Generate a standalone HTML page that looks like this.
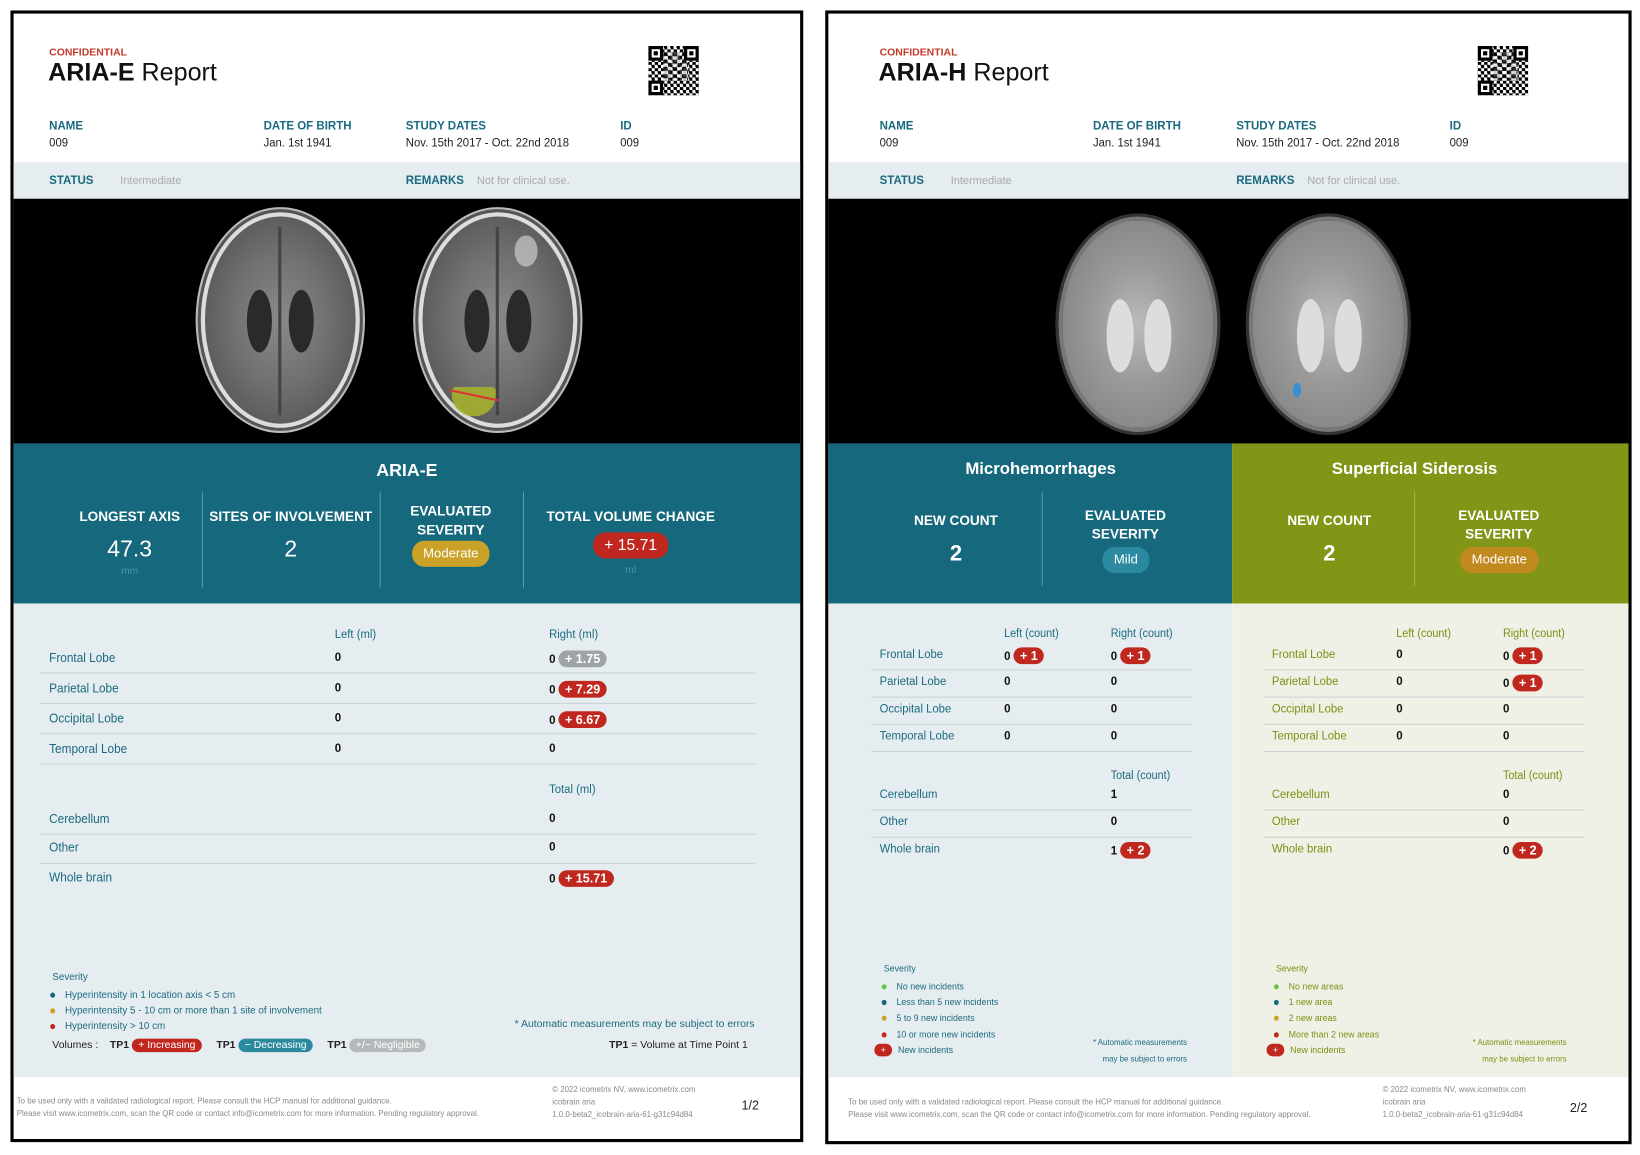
<!DOCTYPE html>
<html><head><meta charset="utf-8"><style>
*{margin:0;padding:0;box-sizing:border-box}
body{width:1640px;height:1154px;overflow:hidden;background:#fff;font-family:"Liberation Sans",Arial,sans-serif}
#w{position:absolute;left:0;top:0;width:1568px;height:1104px;transform:scale(1.0459);transform-origin:0 0}
.a{position:absolute;white-space:nowrap}
.pg{position:absolute;border:3px solid #000;background:#fff}
.lab{color:#1a6a80;font-weight:bold;font-size:11px}
.val{color:#222;font-size:11.5px}
.conf{color:#c0392b;font-weight:bold;font-size:10px}
.ttl{font-size:24px;color:#111}
.qr{position:absolute;width:48px;height:47px;background:
repeating-conic-gradient(#000 0 25%,#fff 0 50%) 0 0/6px 6px,#000}
.qr:before{content:"";position:absolute;inset:6px 10px 14px 14px;background:repeating-conic-gradient(#fff 0 25%,#000 0 50%) 0 0/9px 7px;opacity:.8}
.fd{position:absolute;width:14px;height:14px;border:3px solid #000;background:#fff;box-shadow:inset 0 0 0 2px #fff,inset 0 0 0 6px #000}
.band{position:absolute;background:#e6edf0}
.blk{position:absolute;background:#000}
.brain{position:absolute;border-radius:50%;border:4px solid #ddd;box-shadow:0 0 0 3px #555,0 0 0 5px #bbb;overflow:hidden}
.tb{color:#fff;font-weight:bold;font-size:13px;text-align:center}
.pill{display:inline-block;border-radius:12px;color:#fff;text-align:center}
.rl{color:#1a6a80;font-size:12px}
.ol{color:#7a8f12;font-size:12px}
.hd{color:#1a6a80;font-size:11.5px}
.n{font-size:11px;font-weight:bold;color:#111}
.ln{position:absolute;height:1px;background:#c9d2d6}
.sm{font-size:10px;color:#1a6a80}
.ft{font-size:8px;color:#888;line-height:12px}
.dot{display:inline-block;width:5px;height:5px;border-radius:50%;margin-right:10px;vertical-align:middle}
.rp{background:#c0281f;color:#fff;border-radius:10px;font-size:12px;padding:1px 6px;font-weight:bold}
.v{position:absolute;border-radius:50%}
.a,.ttl{transform-origin:0 0}
.rl,.ol,.hd,.sm,.val,.ft{transform:scaleX(.94)}
</style></head><body><div id="w">

<!-- LEFT PAGE -->
<div class="pg" style="left:10px;top:10px;width:758px;height:1082px"></div>
<div class="a conf" style="left:47px;top:45px">CONFIDENTIAL</div>
<div class="a ttl" style="left:46px;top:56px"><b>ARIA-E</b> Report</div>
<div class="qr" style="left:620px;top:44px"></div>
<div class="fd" style="left:620px;top:44px"></div><div class="fd" style="left:654px;top:44px"></div><div class="fd" style="left:620px;top:77px"></div>
<div class="a lab" style="left:47px;top:115px">NAME</div><div class="a val" style="left:47px;top:131px">009</div>
<div class="a lab" style="left:252px;top:115px">DATE OF BIRTH</div><div class="a val" style="left:252px;top:131px">Jan. 1st 1941</div>
<div class="a lab" style="left:388px;top:115px">STUDY DATES</div><div class="a val" style="left:388px;top:131px">Nov. 15th 2017 - Oct. 22nd 2018</div>
<div class="a lab" style="left:593px;top:115px">ID</div><div class="a val" style="left:593px;top:131px">009</div>
<div class="band" style="left:13px;top:155px;width:752px;height:35px"></div>
<div class="a lab" style="left:47px;top:167px">STATUS</div><div class="a" style="left:115px;top:167px;font-size:10.5px;color:#aaa">Intermediate</div>
<div class="a lab" style="left:388px;top:167px">REMARKS</div><div class="a" style="left:456px;top:167px;font-size:10.5px;color:#aaa">Not for clinical use.</div>
<div class="blk" style="left:13px;top:190px;width:752px;height:234px"></div>
<div class="brain" style="left:192px;top:203px;width:152px;height:206px;background:radial-gradient(ellipse at 50% 50%,#8a8a8a 0,#707070 45%,#5a5a5a 75%,#3a3a3a 92%)">
 <div class="v" style="left:40px;top:70px;width:24px;height:60px;background:#2a2a2a"></div>
 <div class="v" style="left:80px;top:70px;width:24px;height:60px;background:#2a2a2a"></div>
 <div class="v" style="left:70px;top:10px;width:3px;height:180px;background:#444;border-radius:0"></div>
</div>
<div class="brain" style="left:400px;top:203px;width:152px;height:206px;background:radial-gradient(ellipse at 50% 50%,#8a8a8a 0,#707070 45%,#5a5a5a 75%,#3a3a3a 92%)">
 <div class="v" style="left:40px;top:70px;width:24px;height:60px;background:#2a2a2a"></div>
 <div class="v" style="left:80px;top:70px;width:24px;height:60px;background:#2a2a2a"></div>
 <div class="v" style="left:70px;top:10px;width:3px;height:180px;background:#444;border-radius:0"></div>
 <div class="v" style="left:88px;top:18px;width:22px;height:30px;background:#ccc;opacity:.7"></div>
</div>
<div class="a" style="left:432px;top:370px;width:42px;height:28px;background:#a7b52a;border-radius:4px 4px 20px 20px;opacity:.85"></div>
<div class="a" style="left:430px;top:372px;width:48px;height:2px;background:#d33;transform:rotate(12deg)"></div>
<div style="position:absolute;left:13px;top:424px;width:752px;height:153px;background:#16687d"></div>
<div class="a" style="left:13px;top:440px;width:752px;text-align:center;color:#fff;font-weight:bold;font-size:17px">ARIA-E</div>
<div style="position:absolute;left:193px;top:470px;width:1px;height:92px;background:#5a9aab"></div>
<div style="position:absolute;left:363px;top:470px;width:1px;height:92px;background:#5a9aab"></div>
<div style="position:absolute;left:500px;top:470px;width:1px;height:92px;background:#5a9aab"></div>
<div class="a tb" style="left:54px;top:486px;width:140px">LONGEST AXIS</div>
<div class="a" style="left:54px;top:512px;width:140px;text-align:center;color:#fff;font-size:22px">47.3</div>
<div class="a" style="left:54px;top:541px;width:140px;text-align:center;color:#4e92a5;font-size:10px">mm</div>
<div class="a tb" style="left:198px;top:486px;width:160px">SITES OF INVOLVEMENT</div>
<div class="a" style="left:198px;top:512px;width:160px;text-align:center;color:#fff;font-size:22px">2</div>
<div class="a tb" style="left:371px;top:480px;width:120px;line-height:18px;white-space:normal">EVALUATED<br>SEVERITY</div>
<div class="a pill" style="left:394px;top:517px;width:74px;height:25px;line-height:25px;background:#c9a227;font-size:12.5px">Moderate</div>
<div class="a tb" style="left:505px;top:486px;width:196px">TOTAL VOLUME CHANGE</div>
<div class="a pill" style="left:567px;top:509px;width:72px;height:25px;line-height:25px;background:#c0281f;font-size:15px">+ 15.71</div>
<div class="a" style="left:505px;top:540px;width:196px;text-align:center;color:#4e92a5;font-size:10px">ml</div>
<div class="band" style="left:13px;top:577px;width:752px;height:453px"></div>
<div class="a hd" style="left:320px;top:601px">Left (ml)</div><div class="a hd" style="left:525px;top:601px">Right (ml)</div>
<div class="a rl" style="left:47px;top:622px">Frontal Lobe</div><div class="a n" style="left:320px;top:623px">0</div><div class="a n" style="left:525px;top:623px">0 <span class="rp" style="background:#9ea3a6">+ 1.75</span></div>
<div class="ln" style="left:38px;top:643px;width:684px"></div>
<div class="a rl" style="left:47px;top:651px">Parietal Lobe</div><div class="a n" style="left:320px;top:652px">0</div><div class="a n" style="left:525px;top:652px">0 <span class="rp">+ 7.29</span></div>
<div class="ln" style="left:38px;top:672px;width:684px"></div>
<div class="a rl" style="left:47px;top:680px">Occipital Lobe</div><div class="a n" style="left:320px;top:681px">0</div><div class="a n" style="left:525px;top:681px">0 <span class="rp">+ 6.67</span></div>
<div class="ln" style="left:38px;top:701px;width:684px"></div>
<div class="a rl" style="left:47px;top:709px">Temporal Lobe</div><div class="a n" style="left:320px;top:710px">0</div><div class="a n" style="left:525px;top:710px">0</div>
<div class="ln" style="left:38px;top:730px;width:684px"></div>
<div class="a hd" style="left:525px;top:749px">Total (ml)</div>
<div class="a rl" style="left:47px;top:776px">Cerebellum</div><div class="a n" style="left:525px;top:777px">0</div>
<div class="ln" style="left:38px;top:797px;width:684px"></div>
<div class="a rl" style="left:47px;top:803px">Other</div><div class="a n" style="left:525px;top:804px">0</div>
<div class="ln" style="left:38px;top:825px;width:684px"></div>
<div class="a rl" style="left:47px;top:832px">Whole brain</div><div class="a n" style="left:525px;top:833px">0 <span class="rp">+ 15.71</span></div>
<div class="a sm" style="left:50px;top:929px">Severity</div>
<div class="a sm" style="left:48px;top:946px"><span class="dot" style="background:#16687d"></span>Hyperintensity in 1 location axis &lt; 5 cm</div>
<div class="a sm" style="left:48px;top:961px"><span class="dot" style="background:#c9a227"></span>Hyperintensity 5 - 10 cm or more than 1 site of involvement</div>
<div class="a sm" style="left:48px;top:976px"><span class="dot" style="background:#c0281f"></span>Hyperintensity &gt; 10 cm</div>
<div class="a" style="left:50px;top:993px;font-size:10px;color:#222">Volumes : &nbsp;&nbsp; <b>TP1</b> <span class="pill" style="background:#c0281f;padding:1px 6px;font-size:10px">+ Increasing</span> &nbsp;&nbsp;&nbsp; <b>TP1</b> <span class="pill" style="background:#2c8aa0;padding:1px 6px;font-size:10px">− Decreasing</span> &nbsp;&nbsp;&nbsp; <b>TP1</b> <span class="pill" style="background:#b5b8ba;padding:1px 6px;font-size:10px">+/− Negligible</span></div>
<div class="a" style="left:492px;top:974px;font-size:10px;color:#1a6a80">* Automatic measurements may be subject to errors</div>
<div class="a" style="right:853px;top:994px;font-size:10px;color:#222"><b>TP1</b> = Volume at Time Point 1</div>
<div class="a ft" style="left:16px;top:1047px">To be used only with a validated radiological report. Please consult the HCP manual for additional guidance.<br>Please visit www.icometrix.com, scan the QR code or contact info@icometrix.com for more information. Pending regulatory approval.</div>
<div class="a ft" style="left:528px;top:1036px">© 2022 icometrix NV, www.icometrix.com<br>icobrain aria<br>1.0.0-beta2_icobrain-aria-61-g31c94d84</div>
<div class="a" style="left:709px;top:1050px;font-size:12px;color:#222">1/2</div>

<!-- RIGHT PAGE -->
<div class="pg" style="left:789px;top:10px;width:771px;height:1084px"></div>
<div class="a conf" style="left:841px;top:45px">CONFIDENTIAL</div>
<div class="a ttl" style="left:840px;top:56px"><b>ARIA-H</b> Report</div>
<div class="qr" style="left:1413px;top:44px"></div>
<div class="fd" style="left:1413px;top:44px"></div><div class="fd" style="left:1447px;top:44px"></div><div class="fd" style="left:1413px;top:77px"></div>
<div class="a lab" style="left:841px;top:115px">NAME</div><div class="a val" style="left:841px;top:131px">009</div>
<div class="a lab" style="left:1045px;top:115px">DATE OF BIRTH</div><div class="a val" style="left:1045px;top:131px">Jan. 1st 1941</div>
<div class="a lab" style="left:1182px;top:115px">STUDY DATES</div><div class="a val" style="left:1182px;top:131px">Nov. 15th 2017 - Oct. 22nd 2018</div>
<div class="a lab" style="left:1386px;top:115px">ID</div><div class="a val" style="left:1386px;top:131px">009</div>
<div class="band" style="left:792px;top:155px;width:765px;height:35px"></div>
<div class="a lab" style="left:841px;top:167px">STATUS</div><div class="a" style="left:909px;top:167px;font-size:10.5px;color:#aaa">Intermediate</div>
<div class="a lab" style="left:1182px;top:167px">REMARKS</div><div class="a" style="left:1250px;top:167px;font-size:10.5px;color:#aaa">Not for clinical use.</div>
<div class="blk" style="left:792px;top:190px;width:765px;height:234px"></div>
<div class="brain" style="left:1012px;top:207px;width:152px;height:206px;border-color:#777;box-shadow:0 0 0 3px #333;background:radial-gradient(ellipse at 50% 50%,#bbb 0,#9a9a9a 40%,#8a8a8a 70%,#666 92%)">
 <div class="v" style="left:42px;top:75px;width:26px;height:70px;background:#ddd"></div>
 <div class="v" style="left:78px;top:75px;width:26px;height:70px;background:#ddd"></div>
</div>
<div class="brain" style="left:1194px;top:207px;width:152px;height:206px;border-color:#777;box-shadow:0 0 0 3px #333;background:radial-gradient(ellipse at 50% 50%,#bbb 0,#9a9a9a 40%,#8a8a8a 70%,#666 92%)">
 <div class="v" style="left:42px;top:75px;width:26px;height:70px;background:#ddd"></div>
 <div class="v" style="left:78px;top:75px;width:26px;height:70px;background:#ddd"></div>
 <div class="v" style="left:38px;top:155px;width:8px;height:14px;background:#3a8fd0"></div>
</div>
<div style="position:absolute;left:792px;top:424px;width:386px;height:153px;background:#16687d"></div>
<div style="position:absolute;left:1178px;top:424px;width:379px;height:153px;background:#819617"></div>
<div class="a" style="left:792px;top:440px;width:406px;text-align:center;color:#fff;font-weight:bold;font-size:16px">Microhemorrhages</div>
<div class="a" style="left:1178px;top:440px;width:349px;text-align:center;color:#fff;font-weight:bold;font-size:16px">Superficial Siderosis</div>
<div style="position:absolute;left:996px;top:470px;width:1px;height:90px;background:#5a9aab"></div>
<div style="position:absolute;left:1352px;top:470px;width:1px;height:90px;background:#a5b550"></div>
<div class="a tb" style="left:844px;top:490px;width:140px">NEW COUNT</div>
<div class="a" style="left:844px;top:518px;width:140px;text-align:center;color:#fff;font-size:21px;font-weight:bold">2</div>
<div class="a tb" style="left:1016px;top:484px;width:120px;line-height:18px">EVALUATED<br>SEVERITY</div>
<div class="a pill" style="left:1054px;top:523px;width:45px;height:25px;line-height:25px;background:#2c8aa0;font-size:12.5px">Mild</div>
<div class="a tb" style="left:1201px;top:490px;width:140px">NEW COUNT</div>
<div class="a" style="left:1201px;top:518px;width:140px;text-align:center;color:#fff;font-size:21px;font-weight:bold">2</div>
<div class="a tb" style="left:1373px;top:484px;width:120px;line-height:18px">EVALUATED<br>SEVERITY</div>
<div class="a pill" style="left:1396px;top:523px;width:75px;height:25px;line-height:25px;background:#c08a1e;font-size:12.5px">Moderate</div>
<div class="band" style="left:792px;top:577px;width:386px;height:453px"></div>
<div class="band" style="left:1178px;top:577px;width:379px;height:453px;background:#f0f1e6"></div>
<!-- MH table -->
<div class="a hd" style="left:960px;top:600px;font-size:11px">Left (count)</div><div class="a hd" style="left:1062px;top:600px;font-size:11px">Right (count)</div>
<div class="a rl" style="left:841px;top:620px;font-size:11.5px">Frontal Lobe</div><div class="a n" style="left:960px;top:620px">0 <span class="rp">+ 1</span></div><div class="a n" style="left:1062px;top:620px">0 <span class="rp">+ 1</span></div>
<div class="ln" style="left:833px;top:640px;width:307px"></div>
<div class="a rl" style="left:841px;top:646px;font-size:11.5px">Parietal Lobe</div><div class="a n" style="left:960px;top:646px">0</div><div class="a n" style="left:1062px;top:646px">0</div>
<div class="ln" style="left:833px;top:666px;width:307px"></div>
<div class="a rl" style="left:841px;top:672px;font-size:11.5px">Occipital Lobe</div><div class="a n" style="left:960px;top:672px">0</div><div class="a n" style="left:1062px;top:672px">0</div>
<div class="ln" style="left:833px;top:692px;width:307px"></div>
<div class="a rl" style="left:841px;top:698px;font-size:11.5px">Temporal Lobe</div><div class="a n" style="left:960px;top:698px">0</div><div class="a n" style="left:1062px;top:698px">0</div>
<div class="ln" style="left:833px;top:718px;width:307px"></div>
<div class="a hd" style="left:1062px;top:736px;font-size:11px">Total (count)</div>
<div class="a rl" style="left:841px;top:754px;font-size:11.5px">Cerebellum</div><div class="a n" style="left:1062px;top:754px">1</div>
<div class="ln" style="left:833px;top:774px;width:307px"></div>
<div class="a rl" style="left:841px;top:780px;font-size:11.5px">Other</div><div class="a n" style="left:1062px;top:780px">0</div>
<div class="ln" style="left:833px;top:800px;width:307px"></div>
<div class="a rl" style="left:841px;top:806px;font-size:11.5px">Whole brain</div><div class="a n" style="left:1062px;top:806px">1 <span class="rp">+ 2</span></div>
<!-- SS table -->
<div class="a ol" style="left:1335px;top:600px;font-size:11px">Left (count)</div><div class="a ol" style="left:1437px;top:600px;font-size:11px">Right (count)</div>
<div class="a ol" style="left:1216px;top:620px;font-size:11.5px">Frontal Lobe</div><div class="a n" style="left:1335px;top:620px">0</div><div class="a n" style="left:1437px;top:620px">0 <span class="rp">+ 1</span></div>
<div class="ln" style="left:1208px;top:640px;width:307px"></div>
<div class="a ol" style="left:1216px;top:646px;font-size:11.5px">Parietal Lobe</div><div class="a n" style="left:1335px;top:646px">0</div><div class="a n" style="left:1437px;top:646px">0 <span class="rp">+ 1</span></div>
<div class="ln" style="left:1208px;top:666px;width:307px"></div>
<div class="a ol" style="left:1216px;top:672px;font-size:11.5px">Occipital Lobe</div><div class="a n" style="left:1335px;top:672px">0</div><div class="a n" style="left:1437px;top:672px">0</div>
<div class="ln" style="left:1208px;top:692px;width:307px"></div>
<div class="a ol" style="left:1216px;top:698px;font-size:11.5px">Temporal Lobe</div><div class="a n" style="left:1335px;top:698px">0</div><div class="a n" style="left:1437px;top:698px">0</div>
<div class="ln" style="left:1208px;top:718px;width:307px"></div>
<div class="a ol" style="left:1437px;top:736px;font-size:11px">Total (count)</div>
<div class="a ol" style="left:1216px;top:754px;font-size:11.5px">Cerebellum</div><div class="a n" style="left:1437px;top:754px">0</div>
<div class="ln" style="left:1208px;top:774px;width:307px"></div>
<div class="a ol" style="left:1216px;top:780px;font-size:11.5px">Other</div><div class="a n" style="left:1437px;top:780px">0</div>
<div class="ln" style="left:1208px;top:800px;width:307px"></div>
<div class="a ol" style="left:1216px;top:806px;font-size:11.5px">Whole brain</div><div class="a n" style="left:1437px;top:806px">0 <span class="rp">+ 2</span></div>
<!-- legends -->
<div class="a sm" style="left:845px;top:921px;font-size:9px">Severity</div>
<div class="a sm" style="left:843px;top:938px;font-size:9px"><span class="dot" style="background:#6cc04a"></span>No new incidents</div>
<div class="a sm" style="left:843px;top:953px;font-size:9px"><span class="dot" style="background:#16687d"></span>Less than 5 new incidents</div>
<div class="a sm" style="left:843px;top:968px;font-size:9px"><span class="dot" style="background:#c9a227"></span>5 to 9 new incidents</div>
<div class="a sm" style="left:843px;top:984px;font-size:9px"><span class="dot" style="background:#c0281f"></span>10 or more new incidents</div>
<div class="a sm" style="left:836px;top:998px;font-size:9px"><span class="pill" style="background:#c0281f;width:18px;height:12px;line-height:12px;margin-right:6px">+</span>New incidents</div>
<div class="a sm" style="left:1045px;top:989px;font-size:8px;text-align:right;line-height:16px">* Automatic measurements<br>&nbsp;&nbsp;&nbsp;&nbsp;may be subject to errors</div>
<div class="a ol" style="left:1220px;top:921px;font-size:9px">Severity</div>
<div class="a ol" style="left:1218px;top:938px;font-size:9px"><span class="dot" style="background:#6cc04a"></span>No new areas</div>
<div class="a ol" style="left:1218px;top:953px;font-size:9px"><span class="dot" style="background:#16687d"></span>1 new area</div>
<div class="a ol" style="left:1218px;top:968px;font-size:9px"><span class="dot" style="background:#c9a227"></span>2 new areas</div>
<div class="a ol" style="left:1218px;top:984px;font-size:9px"><span class="dot" style="background:#c0281f"></span>More than 2 new areas</div>
<div class="a ol" style="left:1211px;top:998px;font-size:9px"><span class="pill" style="background:#c0281f;width:18px;height:12px;line-height:12px;margin-right:6px">+</span>New incidents</div>
<div class="a ol" style="left:1408px;top:989px;font-size:8px;text-align:right;line-height:16px">* Automatic measurements<br>&nbsp;&nbsp;&nbsp;&nbsp;may be subject to errors</div>
<div class="a ft" style="left:811px;top:1048px">To be used only with a validated radiological report. Please consult the HCP manual for additional guidance.<br>Please visit www.icometrix.com, scan the QR code or contact info@icometrix.com for more information. Pending regulatory approval.</div>
<div class="a ft" style="left:1322px;top:1036px">© 2022 icometrix NV, www.icometrix.com<br>icobrain aria<br>1.0.0-beta2_icobrain-aria-61-g31c94d84</div>
<div class="a" style="left:1501px;top:1052px;font-size:12px;color:#222">2/2</div>
</div></body></html>
